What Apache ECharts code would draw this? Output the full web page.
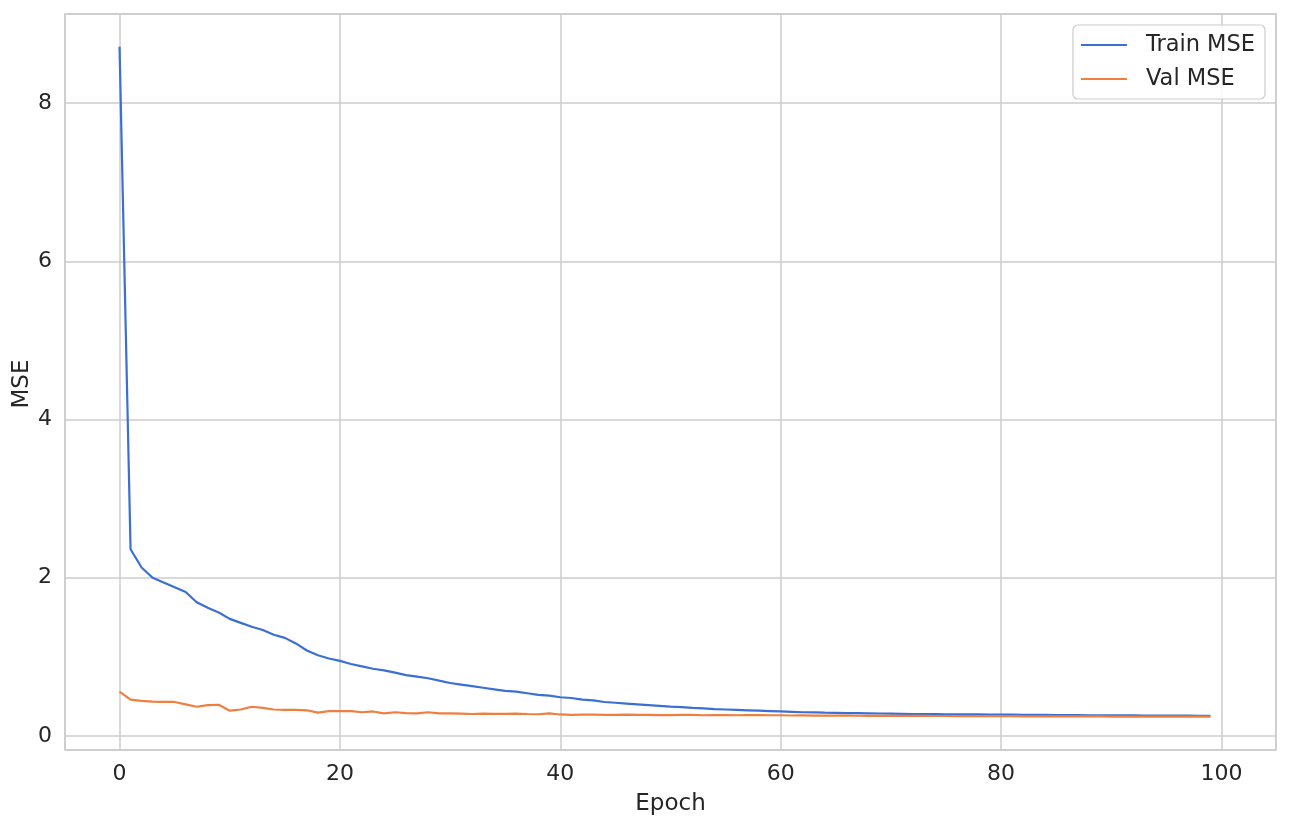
<!DOCTYPE html>
<html>
<head>
<meta charset="utf-8">
<script src="https://cdn.jsdelivr.net/npm/echarts@6/dist/echarts.min.js"></script>
<style>html,body{margin:0;padding:0;background:#fff}#c{width:1290px;height:825px}</style>
</head>
<body>
<div id="c"></div>
<script>
const epochs = Array.from({length: 100}, (_, i) => i);
const trainMSE = [
  8.71, 2.36, 2.13, 2.00, 1.94, 1.88, 1.82, 1.69, 1.62, 1.56,
  1.48, 1.43, 1.38, 1.34, 1.28, 1.24, 1.17, 1.08, 1.02, 0.98,
  0.95, 0.91, 0.88, 0.85, 0.83, 0.80, 0.77, 0.75, 0.73, 0.70,
  0.67, 0.65, 0.63, 0.61, 0.59, 0.57, 0.56, 0.54, 0.52, 0.51,
  0.49, 0.48, 0.46, 0.45, 0.43, 0.42, 0.41, 0.40, 0.39, 0.38,
  0.37, 0.365, 0.355, 0.35, 0.34, 0.335, 0.33, 0.325, 0.32, 0.315,
  0.31, 0.305, 0.30, 0.298, 0.295, 0.293, 0.29, 0.288, 0.286, 0.284,
  0.282, 0.28, 0.278, 0.277, 0.276, 0.275, 0.274, 0.273, 0.272, 0.271,
  0.27, 0.269, 0.268, 0.267, 0.266, 0.265, 0.264, 0.263, 0.262, 0.262,
  0.261, 0.26, 0.26, 0.259, 0.258, 0.258, 0.257, 0.257, 0.256, 0.256
];
const valMSE = [
  0.56, 0.46, 0.445, 0.435, 0.43, 0.43, 0.40, 0.37, 0.39, 0.395,
  0.32, 0.335, 0.37, 0.355, 0.335, 0.33, 0.33, 0.325, 0.295, 0.315,
  0.315, 0.315, 0.30, 0.31, 0.285, 0.30, 0.29, 0.285, 0.30, 0.285,
  0.285, 0.283, 0.278, 0.282, 0.279, 0.28, 0.283, 0.278, 0.275, 0.285,
  0.272, 0.268, 0.27, 0.27, 0.266, 0.268, 0.27, 0.266, 0.267, 0.263,
  0.264, 0.267, 0.266, 0.262, 0.263, 0.264, 0.262, 0.264, 0.263, 0.262,
  0.262, 0.259, 0.26, 0.258, 0.259, 0.258, 0.257, 0.256, 0.255, 0.254,
  0.256, 0.255, 0.254, 0.254, 0.253, 0.253, 0.252, 0.252, 0.251, 0.251,
  0.25, 0.25, 0.249, 0.249, 0.249, 0.248, 0.248, 0.247, 0.247, 0.247,
  0.246, 0.246, 0.245, 0.246, 0.245, 0.245, 0.244, 0.245, 0.244, 0.244
];
const xTickLabels = [0, 20, 40, 60, 80, 100];
const yTickLabels = [0, 2, 4, 6, 8];
const xTitle = 'Epoch';
const yTitle = 'MSE';

const FONT = 'DejaVu Sans';
const TXT = '#262626';
const GRIDC = '#cccccc';

const chart = echarts.init(document.getElementById('c'), null, {renderer: 'canvas'});
chart.setOption({
  backgroundColor: '#ffffff',
  animation: false,
  grid: {left: 65, right: 14, top: 14, bottom: 75, show: true, borderColor: GRIDC, borderWidth: 1.5,
         backgroundColor: 'transparent', containLabel: false, outerBoundsMode: 'none'},
  graphic: [{
    type: 'text', x: 22, y: 384, rotation: Math.PI / 2,
    style: {text: yTitle, textAlign: 'center', textVerticalAlign: 'middle',
            font: '23px "DejaVu Sans"', fill: TXT}
  }],
  legend: {
    right: 25, top: 25, orient: 'vertical',
    data: ['Train MSE', 'Val MSE'],
    icon: 'rect',
    itemWidth: 46, itemHeight: 2, itemGap: 10,
    padding: [8, 10, 8, 8],
    borderColor: GRIDC, borderWidth: 1.2, borderRadius: 5,
    backgroundColor: 'rgba(255,255,255,0.85)',
    textStyle: {fontFamily: FONT, fontSize: 22.5, color: TXT, padding: [0, 0, 0, 14], lineHeight: 24}
  },
  xAxis: {
    type: 'value', min: -4.95, max: 104.95, splitNumber: 5,
    name: xTitle, nameLocation: 'middle', nameGap: 43,
    nameTextStyle: {fontFamily: FONT, fontSize: 23, color: TXT},
    axisLine: {show: false}, axisTick: {show: false},
    axisLabel: {fontFamily: FONT, fontSize: 22, color: TXT, margin: 13,
      formatter: v => xTickLabels.indexOf(Math.round(v * 1000) / 1000) >= 0 ? String(v) : ''},
    splitLine: {show: true, lineStyle: {color: GRIDC, width: 1.5}}
  },
  yAxis: {
    type: 'value', min: -0.177, max: 9.125, splitNumber: 5,
    axisLine: {show: false}, axisTick: {show: false},
    axisLabel: {fontFamily: FONT, fontSize: 22, color: TXT, margin: 13,
      formatter: v => yTickLabels.indexOf(Math.round(v * 1000) / 1000) >= 0 ? String(v) : ''},
    splitLine: {show: true, lineStyle: {color: GRIDC, width: 1.5}}
  },
  series: [
    {name: 'Train MSE', type: 'line', data: epochs.map((e, i) => [e, trainMSE[i]]),
     symbol: 'none', lineStyle: {color: '#3b6fd6', width: 2.2}, itemStyle: {color: '#3b6fd6'}},
    {name: 'Val MSE', type: 'line', data: epochs.map((e, i) => [e, valMSE[i]]),
     symbol: 'none', lineStyle: {color: '#f07f3f', width: 2.2}, itemStyle: {color: '#f07f3f'}}
  ]
});
</script>
</body>
</html>
